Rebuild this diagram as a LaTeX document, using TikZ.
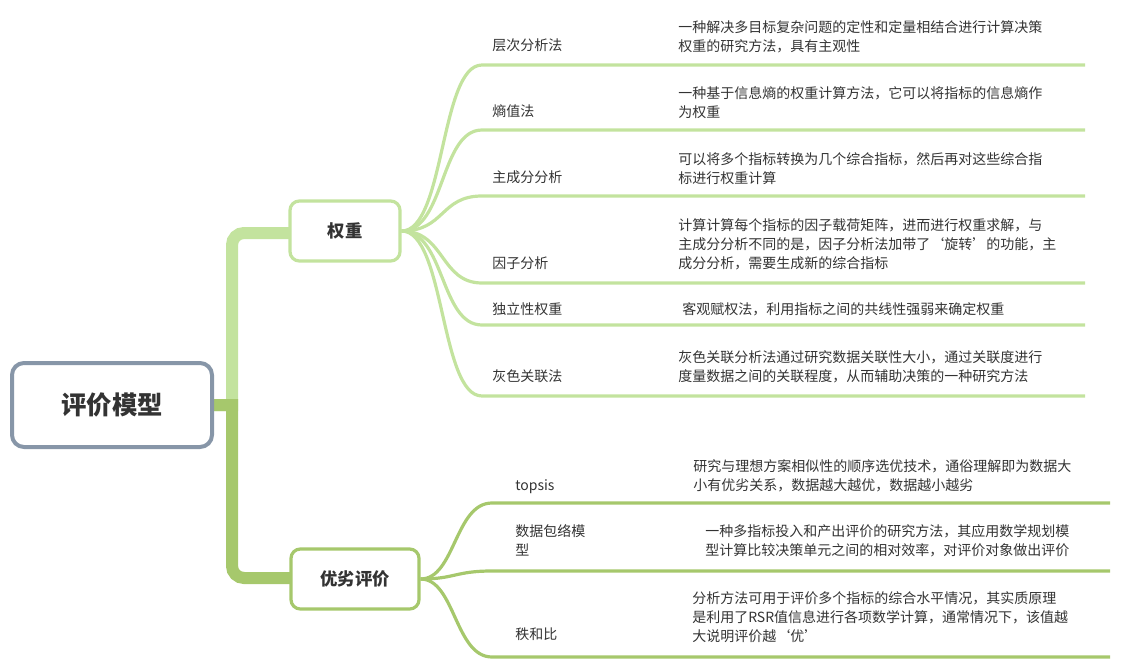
\documentclass[tikz,border=0pt]{standalone}
\usepackage{fontspec}
\setmainfont{Noto Sans CJK SC}
\begin{document}
\begin{tikzpicture}[x=0.75pt,y=-0.75pt,
  lt/.style={draw=lg,line width=2.4pt},
  dk/.style={draw=dg,line width=2.4pt},
  lab/.style={anchor=north west,inner sep=0pt,font=\fontsize{10.5}{14.25}\selectfont,text=black!80,align=left},
  box/.style={rounded corners=7pt,line width=2.4pt,fill=white,font=\fontsize{13}{15}\bfseries,text=black!80}]
\definecolor{lg}{HTML}{C3E39E}
\definecolor{dg}{HTML}{A6C86C}
\definecolor{rb}{HTML}{8796A8}
\useasboundingbox (0,0) rectangle (1125,671);
% trunk
\coordinate (j) at (232,405);
\draw[lg,line width=9pt] (214,405) -- (232,405) -- (232,245) arc (180:270:12) -- (292,233);
\draw[dg,line width=9pt] (214,405) -- (232,405) -- (232,566) arc (180:90:12) -- (292,578);
\node[draw=rb,rounded corners=9pt,line width=3pt,fill=white,minimum width=200pt*0.75,minimum height=84pt*0.75,font=\fontsize{19}{22}\bfseries,text=black!80] (root) at (112,405) {评价模型};
\node[box,draw=lg,minimum width=110*0.75pt,minimum height=60*0.75pt] (w) at (345,231) {权重};
\node[box,draw=dg,minimum width=128*0.75pt,minimum height=60*0.75pt] (y) at (355,579) {优劣评价};
% upper leaves
\foreach \n/\yy/\l/\ly in {a/65/层次分析法/38,b/130/熵值法/104,c/196/主成分分析/170,d/283/因子分析/256,e/325/独立性权重/302,f/396/灰色关联法/369}{
  \coordinate (\n s) at (482,\yy);
  \coordinate (\n e) at (1085,\yy);
  \draw[lt] (w.east) .. controls (445,231) and (440,\yy) .. (\n s) -- (\n e);
  \node[lab] (\n l) at (492,\ly) {\l};
}
\node[lab] (ad) at (678,20) {一种解决多目标复杂问题的定性和定量相结合进行计算决策\\权重的研究方法，具有主观性};
\node[lab] (bd) at (678,86) {一种基于信息熵的权重计算方法，它可以将指标的信息熵作\\为权重};
\node[lab] (cd) at (678,152) {可以将多个指标转换为几个综合指标，然后再对这些综合指\\标进行权重计算};
\node[lab] (dd) at (678,218) {计算计算每个指标的因子载荷矩阵，进而进行权重求解，与\\主成分分析不同的是，因子分析法加带了‘旋转’的功能，主\\成分分析，需要生成新的综合指标};
\node[lab] (ed) at (682,302) {客观赋权法，利用指标之间的共线性强弱来确定权重};
\node[lab] (fd) at (678,350) {灰色关联分析法通过研究数据关联性大小，通过关联度进行\\度量数据之间的关联程度，从而辅助决策的一种研究方法};
% lower leaves
\foreach \n/\yy in {g/503,h/571,i/657}{
  \coordinate (\n s) at (492,\yy);
  \coordinate (\n e) at (1110,\yy);
  \draw[dk] (y.east) .. controls (455,579) and (455,\yy) .. (\n s) -- (\n e);
}
\node[lab] (gl) at (515,479) {topsis};
\node[lab] (hl) at (515,524) {数据包络模\\型};
\node[lab] (il) at (515,628) {秩和比};
\node[lab] (gd) at (693,459) {研究与理想方案相似性的顺序选优技术，通俗理解即为数据大\\小有优劣关系，数据越大越优，数据越小越劣};
\node[lab] (hd) at (705,524) {一种多指标投入和产出评价的研究方法，其应用数学规划模\\型计算比较决策单元之间的相对效率，对评价对象做出评价};
\node[lab] (id) at (692,591) {分析方法可用于评价多个指标的综合水平情况，其实质原理\\是利用了RSR值信息进行各项数学计算，通常情况下，该值越\\大说明评价越‘优’};
\end{tikzpicture}
\end{document}
